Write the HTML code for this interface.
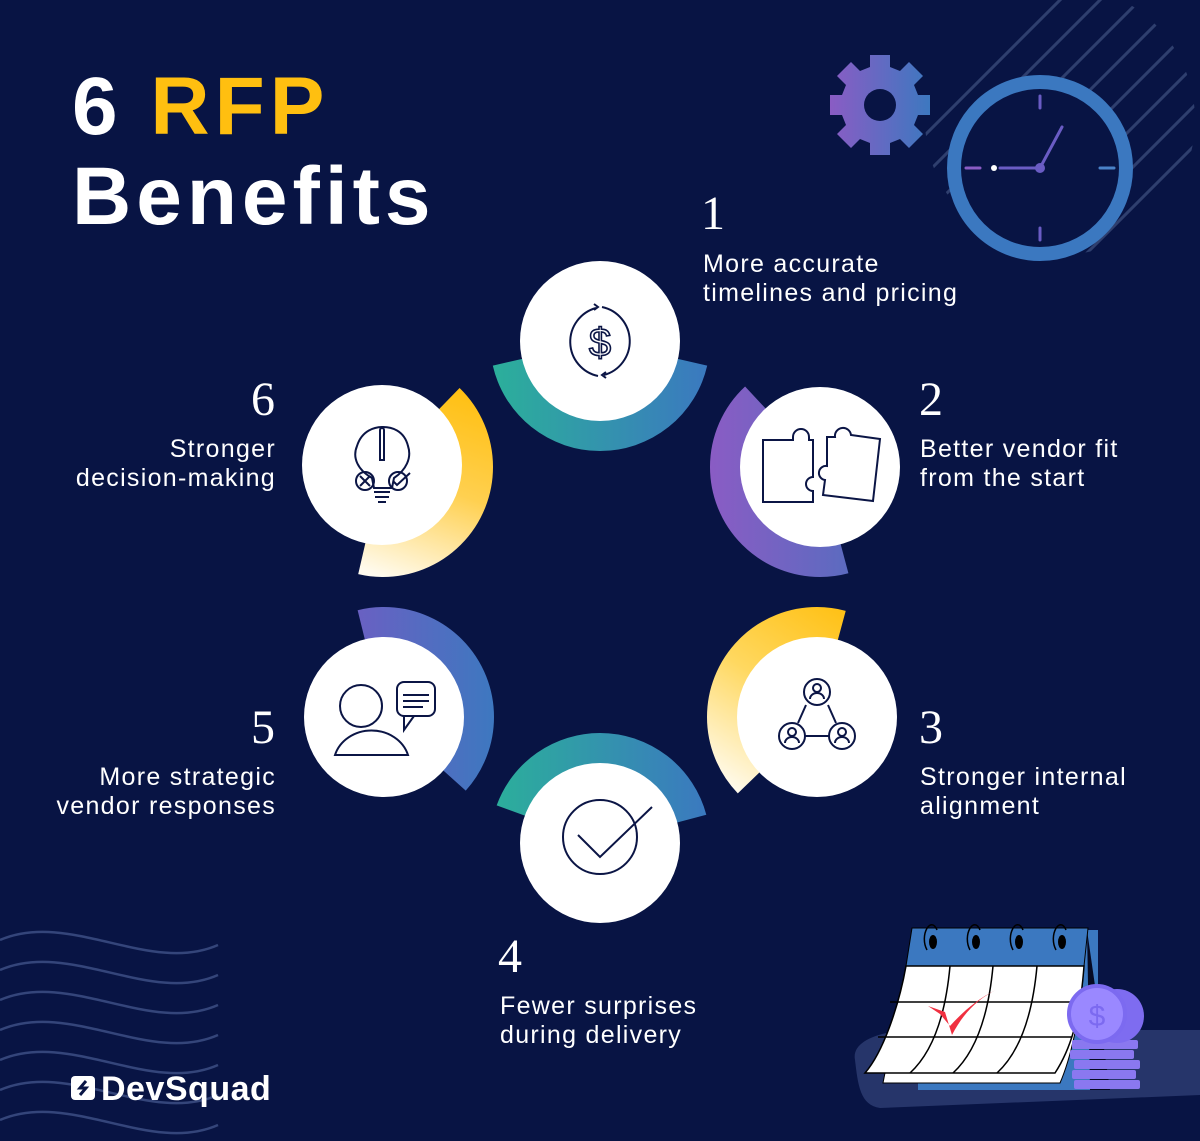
<!DOCTYPE html>
<html><head><meta charset="utf-8"><style>
html,body{margin:0;padding:0;background:#081444;}
body{width:1200px;height:1141px;overflow:hidden;position:relative;font-family:"Liberation Sans",sans-serif;color:#fff;}
.t{position:absolute;font-size:25px;letter-spacing:1.3px;line-height:29px;}
.n{position:absolute;font-family:"Liberation Serif",serif;font-size:48px;line-height:48px;}
.r{text-align:right;}
</style></head><body>
<svg width="1200" height="1141" style="position:absolute;left:0;top:0">
<defs>
<linearGradient id="g1" gradientUnits="userSpaceOnUse" x1="490" y1="0" x2="710" y2="0"><stop offset="0" stop-color="#2bb09a"/><stop offset="1" stop-color="#3b78c0"/></linearGradient>
<linearGradient id="g4" gradientUnits="userSpaceOnUse" x1="490" y1="0" x2="710" y2="0"><stop offset="0" stop-color="#2bb09a"/><stop offset="1" stop-color="#3b78c0"/></linearGradient>
<linearGradient id="g2" gradientUnits="userSpaceOnUse" x1="710" y1="0" x2="850" y2="0"><stop offset="0" stop-color="#8a5cc4"/><stop offset="1" stop-color="#5b6bc0"/></linearGradient>
<linearGradient id="g5" gradientUnits="userSpaceOnUse" x1="355" y1="0" x2="495" y2="0"><stop offset="0" stop-color="#6a60c2"/><stop offset="1" stop-color="#3d78c0"/></linearGradient>
<linearGradient id="g3" gradientUnits="userSpaceOnUse" x1="850" y1="605" x2="730" y2="790"><stop offset="0" stop-color="#ffbf10"/><stop offset="0.5" stop-color="#ffd860"/><stop offset="1" stop-color="#fffbef"/></linearGradient>
<linearGradient id="g6" gradientUnits="userSpaceOnUse" x1="460" y1="385" x2="390" y2="580"><stop offset="0" stop-color="#ffbf10"/><stop offset="0.5" stop-color="#ffd050"/><stop offset="1" stop-color="#fffbef"/></linearGradient>
<linearGradient id="gg" x1="0" y1="0" x2="1" y2="0"><stop offset="0" stop-color="#8a5cc4"/><stop offset="1" stop-color="#3d78c0"/></linearGradient>
<clipPath id="hc"><circle cx="1060" cy="120" r="135"/></clipPath>
</defs>
<g clip-path="url(#hc)" stroke="#2f3f6e" stroke-width="3">
<line x1="960" y1="300" x2="1260" y2="0"/><line x1="940" y1="280" x2="1240" y2="-20"/><line x1="920" y1="260" x2="1220" y2="-40"/>
<line x1="980" y1="320" x2="1280" y2="20"/><line x1="1000" y1="340" x2="1300" y2="40"/><line x1="1020" y1="360" x2="1320" y2="60"/>
<line x1="900" y1="240" x2="1200" y2="-60"/><line x1="880" y1="220" x2="1180" y2="-80"/><line x1="860" y1="200" x2="1160" y2="-100"/>
<line x1="1040" y1="380" x2="1340" y2="80"/><line x1="1060" y1="400" x2="1360" y2="100"/>
</g>
<circle cx="1040" cy="168" r="86" fill="#081444" stroke="#3b78c0" stroke-width="14"/>
<g stroke="#6a5cc4" stroke-width="3" stroke-linecap="round">
<line x1="1040" y1="96" x2="1040" y2="108"/><line x1="1040" y1="228" x2="1040" y2="240"/>
<line x1="966" y1="168" x2="980" y2="168" stroke="#8a5cc4"/><line x1="1100" y1="168" x2="1114" y2="168" stroke="#4a82c8"/>
<line x1="1000" y1="168" x2="1040" y2="168"/><line x1="1040" y1="168" x2="1062" y2="127"/></g>
<circle cx="1040" cy="168" r="5" fill="#6a5cc4"/><circle cx="994" cy="168" r="3" fill="#fff"/>
<g transform="translate(880,105)" fill="url(#gg)">
<path d="M-10,-50 h20 v12 l10,4 9,-9 14,14 -9,9 4,10 h12 v20 h-12 l-4,10 9,9 -14,14 -9,-9 -10,4 v12 h-20 v-12 l-10,-4 -9,9 -14,-14 9,-9 -4,-10 h-12 v-20 h12 l4,-10 -9,-9 14,-14 9,9 10,-4 z"/>
</g>
<circle cx="880" cy="105" r="16" fill="#081444"/>
<g fill="none" stroke="#34457a" stroke-width="2.5">
<path d="M0,940 C70,910 150,975 218,945"/><path d="M0,970 C70,940 150,1005 218,975"/><path d="M0,1000 C70,970 150,1035 218,1005"/>
<path d="M0,1030 C70,1000 150,1065 218,1035"/><path d="M0,1060 C70,1030 150,1095 218,1065"/><path d="M0,1090 C70,1060 150,1125 218,1095"/>
<path d="M0,1120 C70,1090 150,1155 218,1125"/>
</g>
<g fill="none" stroke-width="38">
<circle cx="600" cy="341" r="91" stroke="url(#g1)" stroke-dasharray="0 20.6 244.6 2000"/>
<circle cx="820" cy="467" r="91" stroke="url(#g2)" stroke-dasharray="0 119.1 241.4 2000"/>
<circle cx="817" cy="717" r="91" stroke="url(#g3)" stroke-dasharray="0 216 236.7 2000"/>
<circle cx="600" cy="843" r="91" stroke="url(#g4)" stroke-dasharray="0 317.6 230.3 2000"/>
<circle cx="384" cy="717" r="91" stroke="url(#g5)" stroke-dasharray="66.7 339.9 165.2 2000"/>
<circle cx="383" cy="467" r="91" stroke="url(#g6)" stroke-dasharray="163.6 335.1 73.1 2000"/>
</g>
<g fill="#fff">
<circle cx="600" cy="341" r="80"/><circle cx="820" cy="467" r="80"/><circle cx="817" cy="717" r="80"/>
<circle cx="600" cy="843" r="80"/><circle cx="384" cy="717" r="80"/><circle cx="382" cy="465" r="80"/>
</g>
<g fill="none" stroke="#0b1545" stroke-width="2">
<path d="M596,308 A35,35 0 0 0 598,376"/><path d="M604,375 A35,35 0 0 0 602,307"/>
<path d="M594,304 l4,3 -4,3"/><path d="M606,372 l-4,3 4,3"/>
<text x="600" y="356" font-size="40" font-family="Liberation Sans" text-anchor="middle" fill="#fff" stroke="#0b1545" stroke-width="1.6">$</text>
<path d="M763,440 h30 v-3 a8,8 0 0 1 16,0 v3 h4 v37 a7,7 0 0 0 0,14 v11 h-50 z"/>
<path d="M827,437 h8 a8,8 0 0 1 16,-2 l29,4 -7,62 -50,-6 2,-15 a7,7 0 0 1 2,-14 z"/>
<circle cx="600" cy="837" r="37"/><path d="M578,835 l22,22 52,-50"/>
<circle cx="361" cy="706" r="21"/><path d="M335,755 a38,34 0 0 1 73,0 z"/>
<rect x="397" y="682" width="38" height="34" rx="7"/><path d="M404,716 l0,14 10,-14"/>
<path d="M403,695 h26 M403,701 h26 M403,707 h20"/>
<path d="M372,478 C358,470 352,458 357,446 C362,430 375,427 383,427 C391,427 404,430 408,446 C412,458 406,470 394,478 l-2,10 h-18 z"/>
<path d="M380,460 v-30 a2,2 0 0 1 4,0 v30 z"/>
<circle cx="365" cy="481" r="9"/><circle cx="398" cy="481" r="9"/><path d="M360,476 l10,10 M370,476 l-10,10 M393,481 l4,4 13,-12"/>
<path d="M374,492 h16 M375,497 h14 M378,502 h8"/>
<circle cx="817" cy="692" r="13"/><circle cx="792" cy="736" r="13"/><circle cx="842" cy="736" r="13"/>
<path d="M806,705 l-8,18 M828,705 l8,18 M805,736 h24"/>
<circle cx="817" cy="688" r="4"/><path d="M810,699 a7,6 0 0 1 14,0"/><circle cx="792" cy="732" r="4"/><path d="M785,743 a7,6 0 0 1 14,0"/><circle cx="842" cy="732" r="4"/><path d="M835,743 a7,6 0 0 1 14,0"/>
</g>
<path d="M855,1060 C850,1035 900,1025 960,1030 L1200,1030 L1200,1095 L880,1108 C860,1105 858,1085 855,1060 Z" fill="#26356a"/>
<rect x="918" y="930" width="180" height="160" fill="#3b78c0"/>
<path d="M1087,930 L1110,1090 L1090,1090 Z" fill="#050a24"/>
<path d="M912,928 L1088,928 L1084,966 L906,966 Z" fill="#3b78c0" stroke="#000" stroke-width="1"/>
<path d="M906,966 L1084,966 C1080,1020 1070,1060 1060,1083 L883,1083 Z" fill="#fff" stroke="#000" stroke-width="1"/>
<path d="M906,966 L1084,966 C1080,1020 1070,1050 1055,1073 L865,1073 C885,1050 900,1000 906,966 Z" fill="#fff" stroke="#000" stroke-width="1.5"/>
<g stroke="#000" stroke-width="1.5" fill="none">
<path d="M890,1002 H1080 M878,1037 H1072"/>
<path d="M950,966 C946,1010 935,1050 910,1073 M993,966 C989,1010 978,1050 953,1073 M1037,966 C1033,1010 1022,1050 997,1073"/>
<path d="M927,950 c-8,-15 4,-35 10,-20 M970,950 c-8,-15 4,-35 10,-20 M1013,950 c-8,-15 4,-35 10,-20 M1056,950 c-8,-15 4,-35 10,-20"/>
</g>
<g fill="#000"><ellipse cx="933" cy="942" rx="4" ry="7"/><ellipse cx="976" cy="942" rx="4" ry="7"/><ellipse cx="1019" cy="942" rx="4" ry="7"/><ellipse cx="1062" cy="942" rx="4" ry="7"/></g>
<path d="M928,1006 L945,1012 L952,1035 C965,1010 980,998 996,990 C975,1000 960,1015 950,1026 L940,1014 Z" fill="#f03040"/>
<g fill="#8a78f0">
<rect x="1072" y="1040" width="66" height="9" rx="2"/><rect x="1070" y="1050" width="64" height="9" rx="2"/><rect x="1074" y="1060" width="66" height="9" rx="2"/><rect x="1072" y="1070" width="64" height="9" rx="2"/><rect x="1074" y="1080" width="66" height="9" rx="2"/>
</g>
<circle cx="1117" cy="1016" r="27" fill="#7e6cf0"/><circle cx="1097" cy="1014" r="28" fill="#9a88ff" stroke="#7c6af0" stroke-width="4"/>
<text x="1097" y="1026" font-size="30" text-anchor="middle" fill="#7c6af0" font-family="Liberation Sans">$</text>
<rect x="71" y="1076" width="24" height="24" rx="4" fill="#fff"/>
<path d="M86,1081 l-6,7 6,0 -6,7" stroke="#081444" stroke-width="3" fill="none"/>
</svg>
<div style="position:absolute;left:72px;top:62px;font-size:82px;font-weight:bold;letter-spacing:5px;line-height:90px;">6 <span style="color:#ffbf10">RFP</span><br>Benefits</div>
<div style="position:absolute;left:101px;top:1070px;font-size:34px;font-weight:bold;letter-spacing:0.5px;line-height:38px;">DevSquad</div>
<div class="n" style="left:701px;top:190px">1</div>
<div class="t" style="left:703px;top:250px">More accurate<br>timelines and pricing</div>
<div class="n" style="left:919px;top:376px">2</div>
<div class="t" style="left:920px;top:435px">Better vendor fit<br>from the start</div>
<div class="n" style="left:919px;top:704px">3</div>
<div class="t" style="left:920px;top:763px">Stronger internal<br>alignment</div>
<div class="n" style="left:498px;top:933px">4</div>
<div class="t" style="left:500px;top:992px">Fewer surprises<br>during delivery</div>
<div class="n r" style="right:925px;top:704px">5</div>
<div class="t r" style="right:924px;top:763px">More strategic<br>vendor responses</div>
<div class="n r" style="right:925px;top:376px">6</div>
<div class="t r" style="right:924px;top:435px">Stronger<br>decision-making</div>
</body></html>
